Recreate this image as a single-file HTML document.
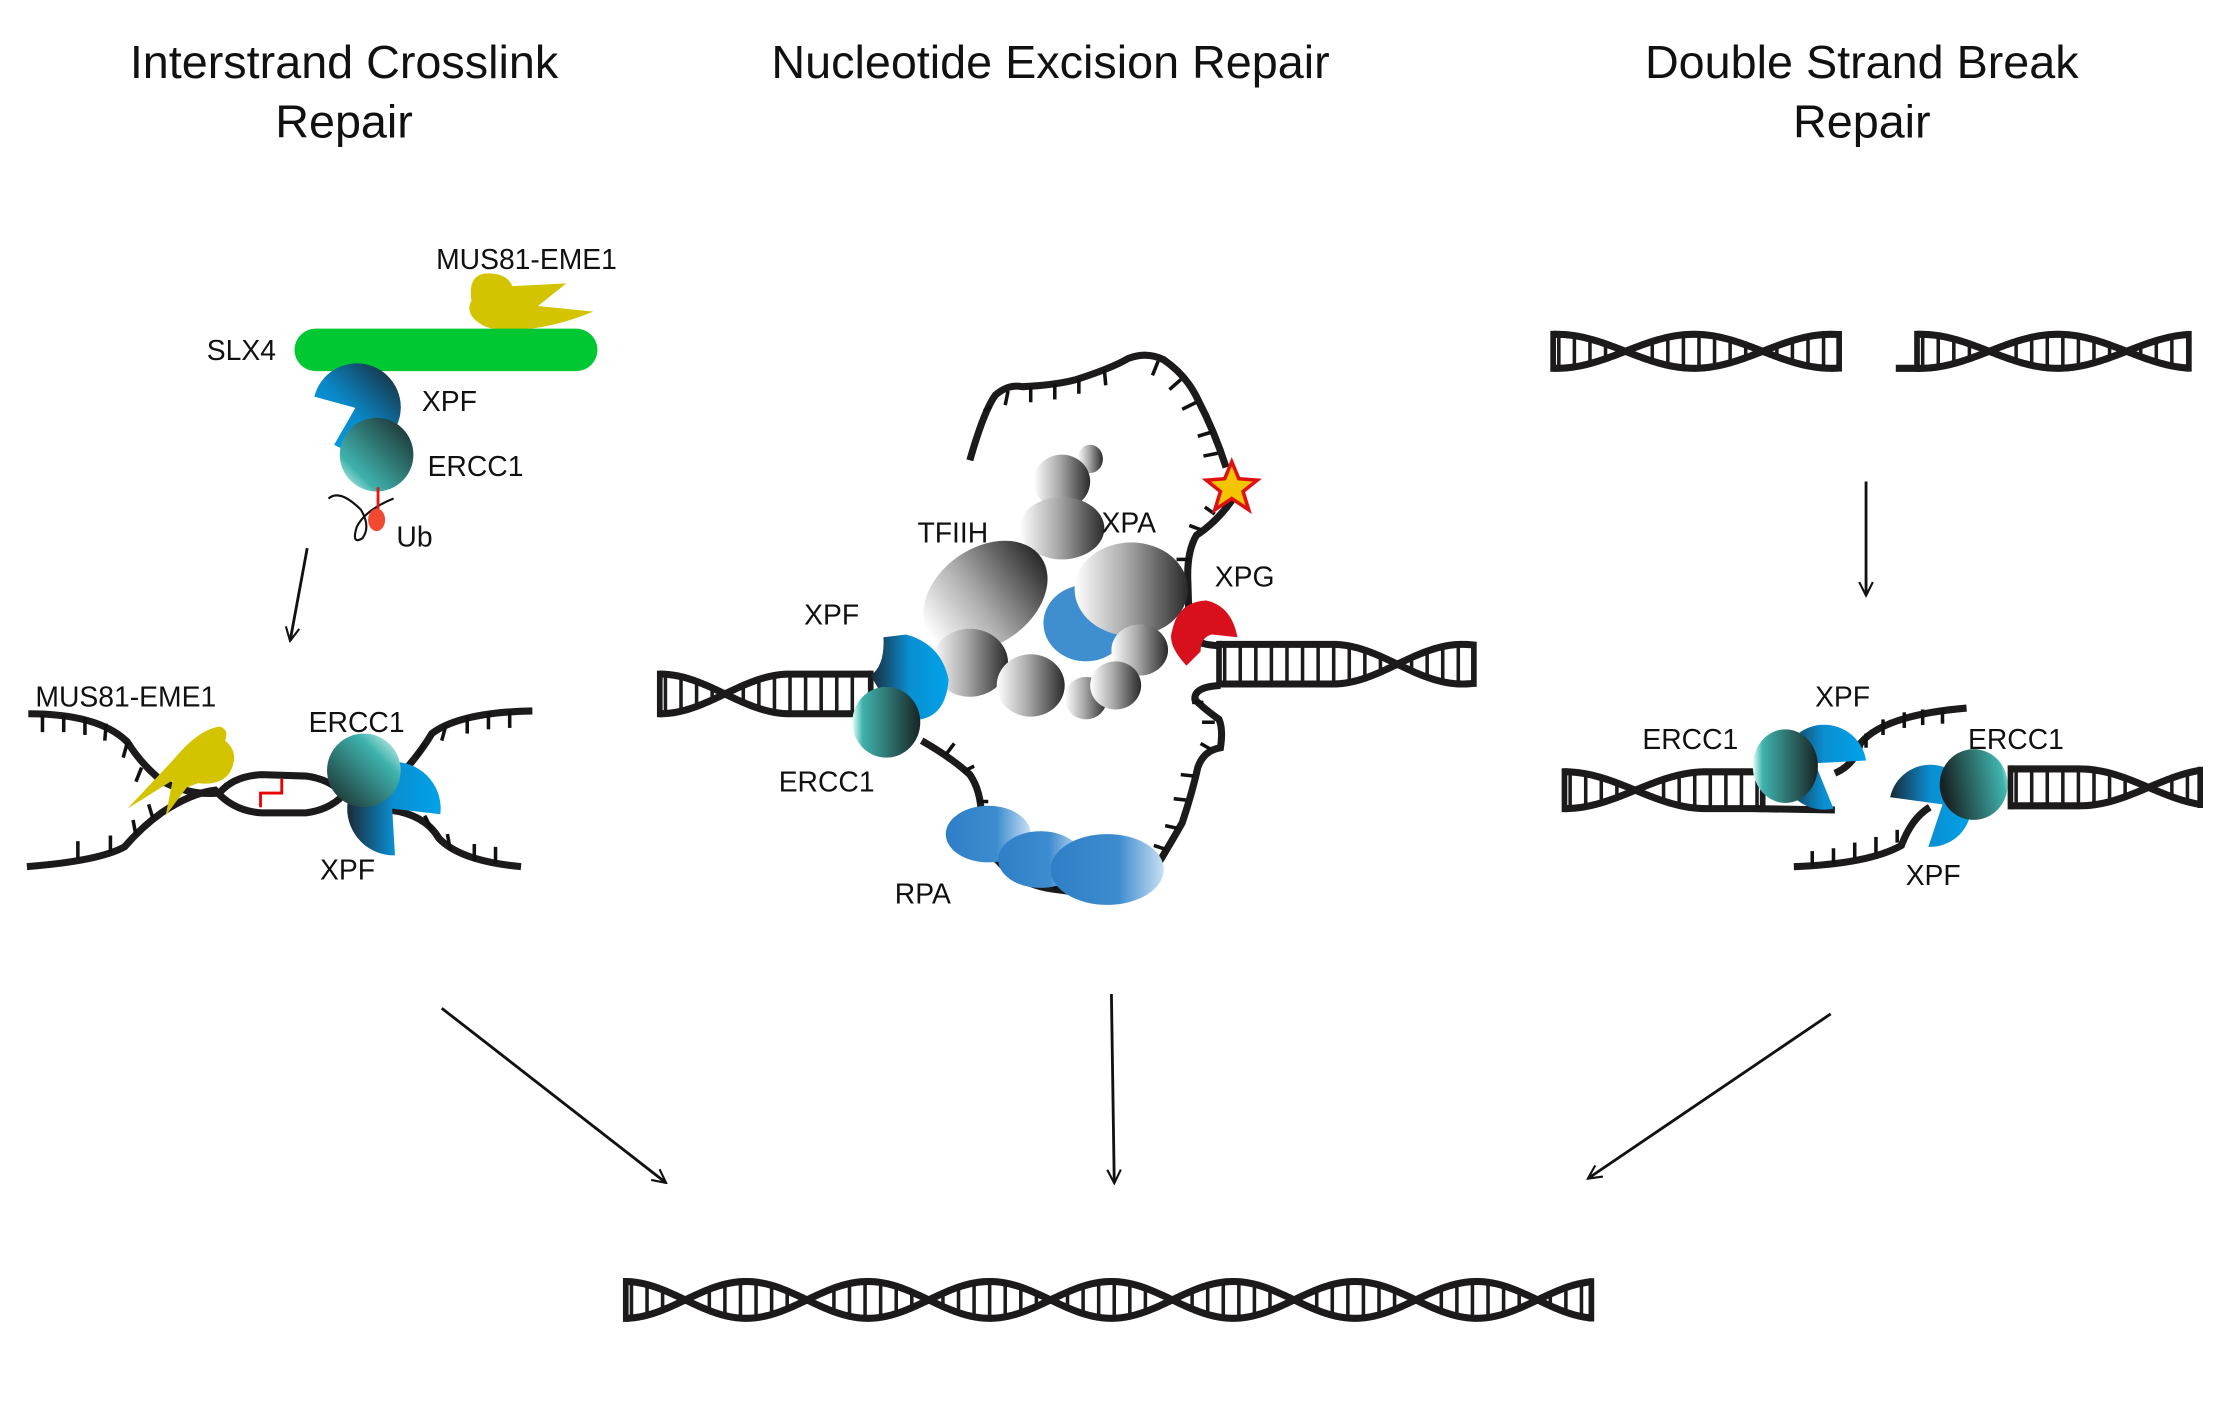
<!DOCTYPE html>
<html><head><meta charset="utf-8"><style>
html,body{margin:0;padding:0;background:#fff;}
svg{display:block}
text{font-family:"Liberation Sans",sans-serif;fill:#111;}
.t{font-size:33px;text-anchor:middle}
.l{font-size:20px}
</style></head><body>
<svg id="s" width="2220" height="1419" viewBox="0 0 1568 1002" xmlns="http://www.w3.org/2000/svg">
<defs>
<linearGradient id="gray" x1="0" y1="0" x2="1" y2="0"><stop offset="0" stop-color="#fff"/><stop offset="0.45" stop-color="#aaa"/><stop offset="1" stop-color="#2a2a2a"/></linearGradient>
<linearGradient id="tealA" x1="0" y1="1" x2="1" y2="0"><stop offset="0" stop-color="#f0fffc"/><stop offset="0.25" stop-color="#3fb3ad"/><stop offset="1" stop-color="#182424"/></linearGradient>
<linearGradient id="tealB" x1="0" y1="1" x2="1" y2="0"><stop offset="0" stop-color="#182424"/><stop offset="0.7" stop-color="#3fb3ad"/><stop offset="1" stop-color="#f0fffc"/></linearGradient>
<linearGradient id="tealL" x1="0" y1="0" x2="1" y2="0"><stop offset="0" stop-color="#e8fffb"/><stop offset="0.15" stop-color="#3fb3ad"/><stop offset="1" stop-color="#182424"/></linearGradient>
<linearGradient id="tealR" x1="1" y1="0" x2="0" y2="0.2"><stop offset="0" stop-color="#e8fffb"/><stop offset="0.15" stop-color="#3fb3ad"/><stop offset="1" stop-color="#182424"/></linearGradient>
<linearGradient id="blue" x1="0" y1="1" x2="1" y2="0"><stop offset="0" stop-color="#00a2e8"/><stop offset="0.45" stop-color="#0a88c8"/><stop offset="1" stop-color="#1a2228"/></linearGradient>
<linearGradient id="blueL" x1="0" y1="0" x2="1" y2="0"><stop offset="0" stop-color="#1a2a38"/><stop offset="0.5" stop-color="#0a8fd2"/><stop offset="1" stop-color="#00a2e8"/></linearGradient>
<linearGradient id="blueR" x1="1" y1="0" x2="0" y2="0"><stop offset="0" stop-color="#1a2a38"/><stop offset="0.5" stop-color="#0a8fd2"/><stop offset="1" stop-color="#00a2e8"/></linearGradient>
<linearGradient id="rpa" x1="0" y1="0" x2="1" y2="0"><stop offset="0" stop-color="#2f7fc7"/><stop offset="0.6" stop-color="#3d8ccf"/><stop offset="1" stop-color="#c8e0f4"/></linearGradient>
<marker id="ah" viewBox="0 0 20 20" refX="17" refY="10" markerWidth="12" markerHeight="12" orient="auto" markerUnits="userSpaceOnUse"><path d="M2,2 L18,10 L2,18" fill="none" stroke="#111" stroke-width="2.5"/></marker>
</defs>
<g id="g"></g>

<text class="t" x="243" y="55">Interstrand Crosslink</text>
<text class="t" x="243" y="97">Repair</text>
<text class="t" x="742" y="55">Nucleotide Excision Repair</text>
<text class="t" x="1315" y="55">Double Strand Break</text>
<text class="t" x="1315" y="97">Repair</text>

<!-- ICL top -->
<path d="M340,229 Q328,222 333,212 Q330,193 345,193 Q358,193 362,202 L400,200 L380,216 L419,220 Q390,232 363,233 Q345,233 340,229Z" fill="#d4c400"/>
<rect x="208" y="232" width="214" height="30" rx="15" fill="#00c832"/>
<path d="M251,288 L236,314 A31,31 0 1 0 222,280 Z" fill="url(#blue)"/>
<circle cx="266" cy="321" r="26" fill="url(#tealA)"/>
<path d="M232,352 Q240,345 255,360 Q262,372 256,380 Q248,385 252,372 Q258,360 278,352" fill="none" stroke="#111" stroke-width="1.5"/>
<path d="M267,344 L267,362" stroke="#e11" stroke-width="2"/>
<ellipse cx="266" cy="367" rx="6" ry="8" fill="#f04a30"/>
<text class="l" x="308" y="190">MUS81-EME1</text>
<text class="l" x="146" y="254">SLX4</text>
<text class="l" x="298" y="290">XPF</text>
<text class="l" x="302" y="336">ERCC1</text>
<text class="l" x="280" y="386">Ub</text>
<line x1="217" y1="387" x2="205" y2="452" stroke="#111" stroke-width="2" marker-end="url(#ah)"/>

<!-- ICL bottom -->
<g fill="none" stroke="#1c1a1a" stroke-width="5">
<path d="M20,504 Q70,504 90,524 Q100,540 115,552 Q135,562 155,560 Q165,548 185,547 L216,548 Q232,550 242,560"/>
<path d="M19,612 Q70,608 88,598 Q100,584 114,574 Q135,560 152,558 Q165,573 185,574 L216,574 Q232,572 242,562"/>
<path d="M285,545 Q298,530 305,518 Q325,503 376,502"/>
<path d="M275,572 Q300,575 310,592 Q325,608 368,612"/>
</g>
<g stroke="#111" stroke-width="2.5" id="iclticks"></g>
<path d="M184,570 L184,560 L199,560 L199,550" fill="none" stroke="#e00" stroke-width="2"/>
<path d="M90,571 L122,537 Q140,515 155,513 Q162,515 159,523 Q170,532 162,546 Q155,555 140,553 L132,556 L117,576 L122,551 Z" fill="#d4c400"/>
<path d="M277,571 L311,575 A33,33 0 1 0 279,604 Z" fill="url(#blueL)"/>
<circle cx="257" cy="544" r="26" fill="url(#tealB)"/>
<text class="l" x="25" y="499">MUS81-EME1</text>
<text class="l" x="218" y="517">ERCC1</text>
<text class="l" x="226" y="621">XPF</text>

<!-- NER -->
<g fill="none" stroke="#1c1a1a" stroke-width="5">
<path d="M685,325 Q695,290 703,279 Q712,271 722,273 Q745,272 760,268 Q785,260 797,253 Q810,248 822,254 Q838,265 846,282 Q858,305 866,330"/>
<path d="M871,352 Q860,368 845,378 Q838,390 839,411 L840,445"/>
<path d="M651,523 Q672,535 685,547 Q694,560 693,581 Q695,600 705,608 Q720,625 745,628 L790,634 Q808,630 818,610 Q830,590 835,581 Q842,560 846,542 Q850,530 862,528 Q864,515 861,508 Q850,500 844,494 Q843,485 862,484"/>
<path d="M842,448 Q842,455 862,456" />
</g>
<g stroke="#111" stroke-width="2.5" id="nerticks"></g>
<path d="M870,326 L875,338 L888,339 L878,347 L882,360 L870,352 L858,360 L862,347 L852,339 L865,338Z" fill="#f5c400" stroke="#e01010" stroke-width="2.5"/>
<ellipse cx="770" cy="324" rx="9" ry="10" fill="url(#gray)"/>
<ellipse cx="750" cy="340" rx="20" ry="19" fill="url(#gray)"/>
<ellipse cx="750" cy="373" rx="30" ry="22" fill="url(#gray)"/>
<ellipse cx="767" cy="440" rx="30" ry="27" fill="#3f8fd0"/>
<ellipse cx="696" cy="421" rx="48" ry="34" fill="url(#gray)" transform="rotate(-35 696 421)"/>
<ellipse cx="799" cy="416" rx="40" ry="33" fill="url(#gray)"/>
<ellipse cx="805" cy="459" rx="20" ry="18" fill="url(#gray)"/>
<ellipse cx="685" cy="468" rx="27" ry="24" fill="url(#gray)"/>
<ellipse cx="728" cy="484" rx="24" ry="22" fill="url(#gray)"/>
<ellipse cx="767" cy="493" rx="15" ry="15" fill="url(#gray)"/>
<ellipse cx="788" cy="484" rx="18" ry="17" fill="url(#gray)"/>
<path d="M828,445 Q832,425 852,424 Q870,428 874,450 L856,448 Q848,450 848,460 L838,470 Q824,455 828,445Z" fill="#d8101c"/>
<ellipse cx="698" cy="589" rx="30" ry="20" fill="url(#rpa)"/>
<ellipse cx="735" cy="607" rx="30" ry="20" fill="url(#rpa)"/>
<ellipse cx="782" cy="614" rx="40" ry="25" fill="url(#rpa)"/>
<path d="M624,450 L640,448 Q665,455 670,480 Q668,505 650,508 L626,496 L615,477 Q625,470 624,450Z" fill="url(#blueL)"/>
<ellipse cx="626" cy="510" rx="24" ry="25" fill="url(#tealL)"/>
<text class="l" x="648" y="383">TFIIH</text>
<text class="l" x="778" y="376">XPA</text>
<text class="l" x="858" y="414">XPG</text>
<text class="l" x="568" y="441">XPF</text>
<text class="l" x="550" y="559">ERCC1</text>
<text class="l" x="632" y="638">RPA</text>

<!-- DSB -->
<line x1="1318" y1="340" x2="1318" y2="420" stroke="#111" stroke-width="2" marker-end="url(#ah)"/>
<g fill="none" stroke="#1c1a1a" stroke-width="5">
<path d="M1296,546 Q1310,540 1314,525 Q1330,505 1389,500"/>
<path d="M1363,570 Q1350,578 1343,597 Q1320,610 1267,612"/>
<path d="M1240,571 L1296,572"/>
</g>
<g stroke="#111" stroke-width="2.5" id="dsbticks"></g>
<path d="M1290,539 L1326,537 A30,30 0 1 0 1303,571 Z" fill="url(#blueL)" transform="translate(-8,0)"/>
<ellipse cx="1261" cy="541" rx="23" ry="26" fill="url(#tealL)"/>
<path d="M1372,568 L1335,563 A29,29 0 1 1 1362,598 Z" fill="url(#blueL)"/>
<ellipse cx="1394" cy="554" rx="24" ry="25" fill="url(#tealR)"/>
<text class="l" x="1160" y="529">ERCC1</text>
<text class="l" x="1282" y="499">XPF</text>
<text class="l" x="1390" y="529">ERCC1</text>
<text class="l" x="1346" y="625">XPF</text>

<!-- big arrows -->
<g stroke="#111" stroke-width="2" marker-end="url(#ah)">
<line x1="312" y1="712" x2="470" y2="835"/>
<line x1="785" y1="702" x2="787" y2="835"/>
<line x1="1293" y1="716" x2="1122" y2="832"/>
</g>
</svg>
<script>
var NS="http://www.w3.org/2000/svg",g=document.getElementById('g');
function el(n,a,p){var e=document.createElementNS(NS,n);for(var k in a)e.setAttribute(k,a[k]);(p||g).appendChild(e);return e;}
function dna(x0,x1,yc,amp,half,phase,flatL,flatR){
 function c(x){if(flatL!=null&&x<flatL)x=flatL;if(flatR!=null&&x>flatR)x=flatR;return amp*Math.cos(Math.PI*(x-x0+phase)/half);}
 var d1="",d2="";
 for(var x=x0;x<=x1;x+=1){var v=c(x);d1+=(x==x0?"M":"L")+x+","+(yc+v).toFixed(2);d2+=(x==x0?"M":"L")+x+","+(yc-v).toFixed(2);}
 for(var x=x0+4;x<=x1-3;x+=11){var v=Math.abs(c(x));if(v>amp*0.3)el('line',{x1:x,y1:yc-v,x2:x,y2:yc+v,stroke:'#1c1a1a','stroke-width':2.5});}
 [x0,x1].forEach(function(x){var v=Math.abs(c(x));if(v>amp*0.5)el('line',{x1:x,y1:yc-v-2.5,x2:x,y2:yc+v+2.5,stroke:'#1c1a1a','stroke-width':4});});
 el('path',{d:d1,fill:'none',stroke:'#1c1a1a','stroke-width':5});
 el('path',{d:d2,fill:'none',stroke:'#1c1a1a','stroke-width':5});
}
dna(442,1124,918,13,86,1);
dna(1097,1299,248,12,97,-2.5);
dna(1354,1546,248,12,97,-2.5);
el('line',{x1:1339,y1:260,x2:1356,y2:260,stroke:'#1c1a1a','stroke-width':5});
dna(466,615,490,14,92,0,null,558);
dna(861,1041,469,14,92,12,941,null);
dna(1105,1245,558,13,100,0,null,1205);
dna(1420,1554,556,13,97,48,1469,null);
function ticks(id,pts,len){var p=document.getElementById(id);pts.forEach(function(t){el('line',{x1:t[0],y1:t[1],x2:t[0]+(t[2]||0),y2:t[1]+(t[3]!=null?t[3]:len)},p);});}
ticks('iclticks',[[30,505,0,12],[45,505,0,12],[60,507,0,12],[75,511,-1,12],[90,524,-3,11],[100,542,-4,10],[55,606,0,-12],[78,602,0,-12],[96,590,-2,-11],[108,578,-3,-10],[300,525,-6,10],[315,512,-3,11],[330,506,0,12],[345,503,0,12],[360,502,0,12],[305,586,-5,-10],[318,600,-2,-11],[335,608,0,-12],[350,610,0,-12]],12);
ticks('nerticks',[[700,287,-5,3],[712,276,-2,10],[728,273,0,11],[745,271,0,11],[762,267,0,11],[780,261,1,11],[818,255,-4,10],[834,268,-8,7],[845,284,-10,5],[856,305,-10,3],[860,320,-10,2],[858,363,-7,-5],[848,374,-8,-3],[840,395,-9,0],[668,533,6,-8],[680,545,8,-4],[690,566,8,0],[700,600,6,-3],[712,616,4,-6],[727,623,3,-8],[745,628,0,-9],[760,630,0,-9],[775,632,0,-9],[800,628,-6,-6],[812,618,-7,-4],[824,600,-9,-3],[832,585,-9,-2],[838,565,-9,-1],[843,548,-9,-1],[855,529,-7,-4],[858,510,-9,0],[850,496,-8,0]],10);
ticks('dsbticks',[[1318,518,0,10],[1330,508,0,11],[1345,503,0,11],[1358,501,0,11],[1372,500,0,11],[1310,530,-3,8],[1280,612,0,-11],[1295,610,0,-11],[1310,606,0,-11],[1325,602,0,-11],[1340,595,0,-9]],12);
</script>
</body></html>
